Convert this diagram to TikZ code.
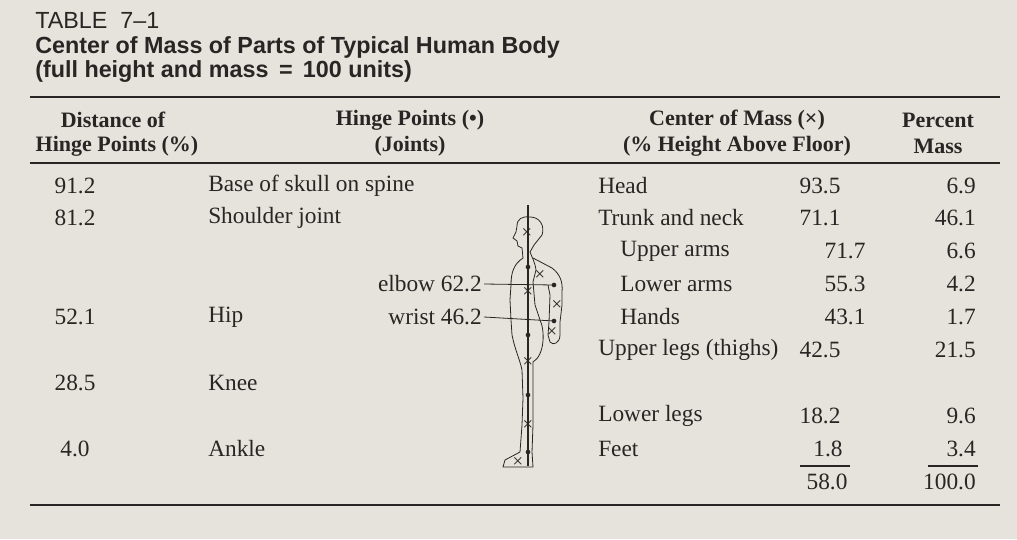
\documentclass[tikz,border=0pt]{standalone}
\usepackage{fontspec}
\setmainfont{Liberation Serif}
\newfontfamily\titlefont{Liberation Sans}
\begin{document}
\begin{tikzpicture}[x=0.75pt,y=-0.75pt,
  tt/.style={font=\titlefont\bfseries\fontsize{17.5}{19}\selectfont,anchor=west,inner sep=0pt,text=inkc},
  hd/.style={font=\bfseries\fontsize{16.5}{18}\selectfont,inner sep=0pt,text=inkc},
  cell/.style={font=\fontsize{17.5}{19}\selectfont,inner sep=0pt,text=inkc},
  rule/.style={draw=inkc,line width=1.2pt},
  body/.style={draw=inkc,line width=0.6pt},
  dotm/.style={circle,fill=inkc,inner sep=0pt,minimum size=3.5pt},
  crm/.style={inner sep=0pt,font=\fontsize{14}{14}\selectfont,text=inkc}]
\definecolor{paper}{RGB}{230,227,220}
\definecolor{inkc}{RGB}{40,38,36}
\fill[paper] (0,0) rectangle (1017,539);
\useasboundingbox (0,0) rectangle (1017,539);
% title
\node[tt,font=\titlefont\fontsize{17.5}{19}\selectfont] (t1) at (35,20) {TABLE\ \ 7–1};
\node[tt] (t2) at (35,47) {Center of Mass of Parts of Typical Human Body};
\node[tt] (t3) at (35,72) {(full height and mass \,=\, 100 units)};
\draw[rule] (30,97) -- (1000,97);
\draw[draw=inkc,line width=0.8pt] (30,163) -- (1000,163);
\draw[rule,line width=1.5pt] (30,505) -- (1000,505);
% headers
\node[hd] (h1a) at (113,120) {Distance of};
\node[hd] (h1b) at (117,146) {Hinge Points (\%)};
\node[hd] (h2a) at (410,120) {Hinge Points (•)};
\node[hd] (h2b) at (410,146) {(Joints)};
\node[hd] (h3a) at (737,120) {Center of Mass (×)};
\node[hd] (h3b) at (737,146) {(\% Height Above Floor)};
\node[hd] (h4a) at (938,120) {Percent};
\node[hd] (h4b) at (938,146) {Mass};
% column 1 & 2
\node[cell] (d1) at (75,186) {91.2};
\node[cell] (d2) at (75,218) {81.2};
\node[cell] (d3) at (75,317) {52.1};
\node[cell] (d4) at (75,383) {28.5};
\node[cell] (d5) at (75,449) {4.0};
\node[cell,anchor=west] (j1) at (208,186) {Base of skull on spine};
\node[cell,anchor=west] (j2) at (208,218) {Shoulder joint};
\node[cell,anchor=west] (j3) at (208,317) {Hip};
\node[cell,anchor=west] (j4) at (208,383) {Knee};
\node[cell,anchor=west] (j5) at (208,449) {Ankle};
\node[cell,anchor=east] (el) at (482,284) {elbow 62.2};
\node[cell,anchor=east] (wr) at (482,317) {wrist 46.2};
% column 3
\node[cell,anchor=west] (p1) at (598,186) {Head};
\node[cell,anchor=west] (p2) at (598,218) {Trunk and neck};
\node[cell,anchor=west] (p3) at (620,251) {Upper arms};
\node[cell,anchor=west] (p4) at (620,284) {Lower arms};
\node[cell,anchor=west] (p5) at (620,317) {Hands};
\node[cell,anchor=west] (p6) at (598,350) {Upper legs (thighs)};
\node[cell,anchor=west] (p7) at (598,416) {Lower legs};
\node[cell,anchor=west] (p8) at (598,449) {Feet};
% column 4
\node[cell] (c1) at (820,186) {93.5};
\node[cell] (c2) at (820,218) {71.1};
\node[cell] (c3) at (845,251) {71.7};
\node[cell] (c4) at (845,284) {55.3};
\node[cell] (c5) at (845,317) {43.1};
\node[cell] (c6) at (820,350) {42.5};
\node[cell] (c7) at (820,416) {18.2};
\node[cell] (c8) at (828,449) {1.8};
\node[cell] (c9) at (827,482) {58.0};
% column 5
\foreach \v/\y/\n in {6.9/186/m1,46.1/218/m2,6.6/251/m3,4.2/284/m4,1.7/317/m5,21.5/350/m6,9.6/416/m7,3.4/449/m8,100.0/482/m9}
  \node[cell,anchor=east] (\n) at (976,\y) {\v};
\draw[draw=inkc,line width=0.8pt] (800,466) -- (850,466);
\draw[draw=inkc,line width=0.8pt] (928,466) -- (978,466);
% figure
\draw[body] (530,217) .. controls (522,216) and (517,219) .. (517,226) -- (516,232) -- (513,238) -- (517,241) -- (518,246) -- (522,248) -- (523,258)
  .. controls (514,264) and (511,272) .. (511,285) -- (510,300) -- (511,320) -- (512,335)
  .. controls (515,350) and (520,360) .. (522,370) -- (523,398) -- (522,425) -- (520,452)
  -- (505,460) -- (503,467) -- (533,467) -- (532,452) -- (533,425) -- (533,398) -- (533,362)
  .. controls (545,355) and (545,330) .. (540,320) -- (535,305) -- (533,282)
  -- (536,270) .. controls (535,262) and (531,255) .. (530,252) -- (534,245) -- (542,235)
  .. controls (545,226) and (540,217) .. (530,217) -- cycle;
\draw[body] (533,258) -- (552,268) .. controls (560,274) and (563,282) .. (562,292) -- (562,305) -- (560,322)
  -- (560,335) .. controls (560,343) and (553,346) .. (550,342) -- (548,335) -- (549,322) -- (550,295) -- (548,285);
\draw[draw=inkc,line width=1pt] (528,205) -- (528,466);
\coordinate (elb) at (554,285);
\coordinate (wri) at (554,321);
\draw[draw=inkc,line width=0.6pt] (el.east) ++(2,0) -- (elb);
\draw[draw=inkc,line width=0.6pt] (wr.east) ++(2,0) -- (wri);
\foreach \p/\n in {{(528,267)}/a1,{(528,335)}/a2,{(528,395)}/a3,{(528,452)}/a4,{(554,285)}/a5,{(554,321)}/a6}
  \node[dotm] (\n) at \p {};
\foreach \p/\n in {{(527,233)}/x1,{(528,292)}/x2,{(528,362)}/x3,{(528,425)}/x4,{(518,462)}/x5,{(540,275)}/x6,{(557,305)}/x7,{(552,332)}/x8}
  \node[crm] (\n) at \p {×};
\end{tikzpicture}
\end{document}
